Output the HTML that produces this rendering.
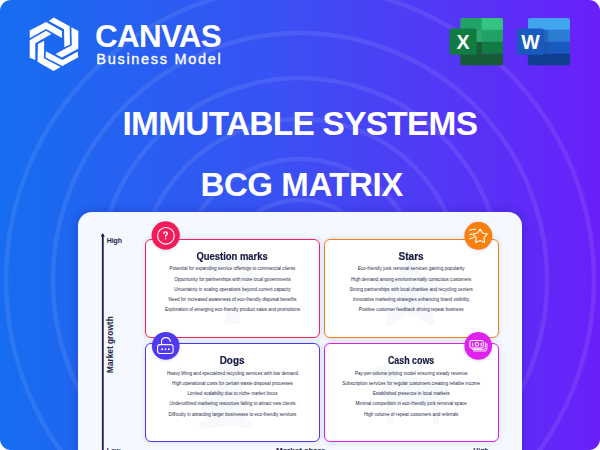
<!DOCTYPE html>
<html><head><meta charset="utf-8">
<style>
*{margin:0;padding:0;box-sizing:border-box}
html,body{width:600px;height:450px;overflow:hidden;background:#fff}
body{position:relative;font-family:"Liberation Sans",sans-serif}
#bg{position:absolute;left:0;top:0;width:600px;height:450px;border-radius:11px;overflow:hidden;
 background:linear-gradient(90deg,#166df0 0%,#3852f3 45%,#6b1ff9 100%)}
#bg svg{position:absolute;left:0;top:0}
.t{position:absolute;color:#fff;white-space:nowrap;font-weight:bold;line-height:1}
#card{position:absolute;left:77.7px;top:212.3px;width:444.6px;height:260px;background:#f5f8fe;border-radius:14px;
 box-shadow:0 0 9px 1px rgba(20,20,120,0.28)}
.box{position:absolute;border:1.6px solid;border-radius:6px;background:#fff;box-shadow:0 0 5px rgba(120,160,220,0.3)}
.ttl{position:absolute;left:-1.2px;right:0;text-align:center;font-weight:bold;font-size:10.5px;line-height:12px;color:#161940;white-space:nowrap;-webkit-text-stroke:0.2px #161940}
.ln{position:absolute;left:-20px;right:-20px;text-align:center;font-size:4.6px;line-height:6px;color:#282a46;white-space:nowrap}
.ic{position:absolute;width:28px;height:28px;border-radius:50%;box-shadow:0 1px 4px rgba(80,100,160,0.18)}
.lbl{position:absolute;white-space:nowrap;font-weight:bold;color:#1b1b45;line-height:1}
</style></head><body>
<div id="bg">
<svg width="600" height="450">
 <g fill="none" stroke="rgba(255,255,255,0.085)" stroke-width="4.5">
  <circle cx="300" cy="280" r="80"/>
  <circle cx="300" cy="280" r="121"/>
  <circle cx="300" cy="280" r="161"/>
  <circle cx="300" cy="280" r="202"/>
  <circle cx="300" cy="280" r="247"/>
  <circle cx="300" cy="280" r="294"/>
 </g>
</svg>
</div>

<!-- logo -->
<svg style="position:absolute;left:0;top:0" width="100" height="90" viewBox="0 0 100 90"><g fill="#fff"><polygon points="29.70,30.60 46.00,21.90 62.00,31.10 62.00,38.00 46.00,28.90 29.70,38.30"/><polygon points="29.70,40.20 46.00,30.80 51.50,34.00 35.30,43.30 35.30,60.10 29.70,57.70"/><polygon points="78.40,31.09 78.18,48.85 61.79,57.41 55.50,53.96 71.80,45.35 71.38,27.24"/><polygon points="69.65,26.29 70.07,44.40 64.40,47.33 64.02,29.35 48.71,20.95 53.69,17.54"/><polygon points="53.60,70.91 37.52,61.85 37.91,44.09 44.20,40.64 43.90,58.35 60.62,67.06"/><polygon points="62.35,66.11 45.63,57.40 45.80,51.27 62.38,59.95 77.69,51.55 78.31,57.36"/></g></svg>
<div class="t" style="left:95px;top:21.3px;font-size:31.4px;letter-spacing:-0.7px">CANVAS</div>
<div class="t" style="left:96.3px;top:51.6px;font-size:14.5px;font-weight:normal;letter-spacing:1.7px;-webkit-text-stroke:0.35px #fff">Business Model</div>

<!-- office icons -->
<svg style="position:absolute;left:0;top:0" width="600" height="90">
 <defs>
  <clipPath id="cx"><rect x="460.3" y="17.9" width="42.7" height="47.7" rx="2.2"/></clipPath>
  <clipPath id="cw"><rect x="527.9" y="17.9" width="42.1" height="47.7" rx="2.2"/></clipPath>
 </defs>
 <g clip-path="url(#cx)">
  <rect x="460" y="17.5" width="44" height="12.4" fill="#21a366"/>
  <rect x="481.7" y="17.5" width="22" height="12.4" fill="#33c481"/>
  <rect x="460" y="29.9" width="44" height="12" fill="#21a366"/>
  <rect x="460" y="41.9" width="44" height="11.8" fill="#107c41"/>
  <rect x="460" y="41.9" width="21.7" height="11.8" fill="#185c37"/>
  <rect x="460" y="53.7" width="44" height="12" fill="#185c37"/>
  <rect x="476.5" y="29.9" width="5.2" height="12" fill="#2fa86f" opacity="0.9"/>
 </g>
 <rect x="449.6" y="28.4" width="26.9" height="26.3" rx="2" fill="#107c41"/>
 <text x="463" y="48.9" text-anchor="middle" font-family="Liberation Sans" font-weight="bold" font-size="19.6" fill="#fff">X</text>
 <g clip-path="url(#cw)">
  <rect x="527" y="17.5" width="44" height="12.4" fill="#41a5ee"/>
  <rect x="527" y="29.9" width="44" height="12" fill="#2b7cd3"/>
  <rect x="527" y="41.9" width="44" height="11.8" fill="#185abd"/>
  <rect x="527" y="53.7" width="44" height="12" fill="#103f91"/>
  <rect x="544" y="29.9" width="4" height="23.8" fill="#1f4fa8" opacity="0.5"/>
 </g>
 <rect x="516.9" y="28.4" width="27.1" height="26.3" rx="2" fill="#185abd"/>
 <text x="530.4" y="48.9" text-anchor="middle" font-family="Liberation Sans" font-weight="bold" font-size="19.6" fill="#fff">W</text>
</svg>
<div class="t" style="left:122.5px;top:106.8px;font-size:33.4px;letter-spacing:-0.7px">IMMUTABLE SYSTEMS</div>
<div class="t" style="left:200.5px;top:168px;font-size:33px;letter-spacing:-0.42px">BCG MATRIX</div>

<div id="card"></div>
<svg id="axis" style="position:absolute;left:0;top:0" width="600" height="450">
 <line x1="102.8" y1="235" x2="102.8" y2="450" stroke="#1b1b45" stroke-width="1.8"/>
 <polygon points="102.8,233 100.8,236.6 104.8,236.6" fill="#1b1b45"/>
</svg>
<div class="lbl" style="left:106.7px;top:237.8px;font-size:6.9px">High</div>
<div class="lbl" style="left:106.7px;top:447.5px;font-size:6.9px">Low</div>
<div class="lbl" style="left:473.2px;top:447.7px;font-size:6.9px">High</div>
<div class="lbl" style="left:276px;top:447.4px;font-size:8px">Market share</div>
<div class="lbl" style="left:105.6px;top:372.6px;font-size:8.3px;transform:rotate(-90deg);transform-origin:0 0">Market growth</div>

<div class="box" style="left:145px;top:238.5px;width:175px;height:99.7px;border-color:#f3215a">
 <svg style="position:absolute;left:0;top:0" width="171" height="96"><g fill="none" stroke="#f7f9fd" stroke-width="11" stroke-linejoin="round"><path d="M64,40 C64,26 73,21 82,21 C93,21 101,29 101,38 C101,51 86,52 86,66"/></g><rect x="79" y="71" width="15" height="13" rx="2" fill="#f7f9fd"/></svg>
 <div class="ttl" style="top:10.0px;transform:scaleX(0.898)">Question marks</div>
 <div class="ln" style="top:26.8px">Potential for expanding service offerings to commercial clients</div>
 <div class="ln" style="top:37.1px">Opportunity for partnerships with more local governments</div>
 <div class="ln" style="top:47.3px">Uncertainty in scaling operations beyond current capacity</div>
 <div class="ln" style="top:57.5px">Need for increased awareness of eco-friendly disposal benefits</div>
 <div class="ln" style="top:67.8px">Exploration of emerging eco-friendly product sales and promotions</div>
</div>
<div class="box" style="left:323.7px;top:238.5px;width:175px;height:99.7px;border-color:#fa7d0f">
 <svg style="position:absolute;left:0;top:0" width="171" height="96"><polygon points="85.3,16.0 95.3,39.2 120.5,41.6 101.5,58.3 107.0,82.9 85.3,70.0 63.6,82.9 69.1,58.3 50.1,41.6 75.3,39.2" fill="#f7f9fd" stroke="#f7f9fd" stroke-width="6" stroke-linejoin="round"/></svg>
 <div class="ttl" style="top:10.0px;transform:scaleX(0.958)">Stars</div>
 <div class="ln" style="top:26.8px">Eco-friendly junk removal services gaining popularity</div>
 <div class="ln" style="top:37.1px">High demand among environmentally conscious customers</div>
 <div class="ln" style="top:47.3px">Strong partnerships with local charities and recycling centers</div>
 <div class="ln" style="top:57.5px">Innovative marketing strategies enhancing brand visibility</div>
 <div class="ln" style="top:67.8px">Positive customer feedback driving repeat business</div>
</div>
<div class="box" style="left:145px;top:342.9px;width:175px;height:99.6px;border-color:#5038f0">
 <svg style="position:absolute;left:0;top:0" width="171" height="96"><g fill="#f7f9fd"><ellipse cx="80" cy="62" rx="25" ry="20"/><circle cx="85" cy="26" r="13"/><rect x="74" y="30" width="22" height="30"/><ellipse cx="65" cy="80" rx="14" ry="4"/><ellipse cx="98" cy="80" rx="10" ry="4"/></g></svg>
 <div class="ttl" style="top:10.5px;transform:scaleX(0.943)">Dogs</div>
 <div class="ln" style="top:26.8px">Heavy lifting and specialized recycling services with low demand</div>
 <div class="ln" style="top:37.1px">High operational costs for certain waste disposal processes</div>
 <div class="ln" style="top:47.3px">Limited scalability due to niche market focus</div>
 <div class="ln" style="top:57.5px">Underutilized marketing resources failing to attract new clients</div>
 <div class="ln" style="top:67.8px">Difficulty in attracting larger businesses to eco-friendly services</div>
</div>
<div class="box" style="left:323.7px;top:342.9px;width:175px;height:99.6px;border-color:#e21cf0">
 <svg style="position:absolute;left:0;top:0" width="171" height="96"><g fill="#f7f9fd"><ellipse cx="90" cy="48" rx="34" ry="14"/><ellipse cx="60" cy="30" rx="13" ry="9"/><rect x="62" y="55" width="6" height="25"/><rect x="108" y="55" width="6" height="25"/></g></svg>
 <div class="ttl" style="top:10.5px;transform:scaleX(0.844)">Cash cows</div>
 <div class="ln" style="top:26.8px">Pay-per-volume pricing model ensuring steady revenue</div>
 <div class="ln" style="top:37.1px">Subscription services for regular customers creating reliable income</div>
 <div class="ln" style="top:47.3px">Established presence in local markets</div>
 <div class="ln" style="top:57.5px">Minimal competition in eco-friendly junk removal space</div>
 <div class="ln" style="top:67.8px">High volume of repeat customers and referrals</div>
</div>

<svg style="position:absolute;left:0;top:0" width="600" height="450">
 <defs><filter id="sh" x="-30%" y="-30%" width="160%" height="160%"><feDropShadow dx="0" dy="1" stdDeviation="1.6" flood-color="#6080c0" flood-opacity="0.25"/></filter></defs>
 <g filter="url(#sh)">
  <circle cx="165.7" cy="235.5" r="14.15" fill="#f41f58"/>
  <circle cx="478.35" cy="235.8" r="14" fill="#fa7f10"/>
  <circle cx="165.75" cy="345.9" r="13.85" fill="#5039ef"/>
  <circle cx="478.2" cy="345.9" r="13.85" fill="#e020ee"/>
 </g>
 <g fill="none" stroke="#fff" stroke-linecap="round" stroke-linejoin="round">
  <!-- question -->
  <circle cx="165.95" cy="235.8" r="8.35" stroke-width="1.15"/>
  <path d="M163.9,233.5 C163.9,232.3 164.7,231.9 165.6,231.9 C166.5,231.9 167.3,232.5 167.3,233.4 C167.3,234.6 165.6,234.8 165.6,236.2 L165.6,236.6" stroke-width="1.35"/>
  <!-- star -->
  <polygon points="480.10,228.90 482.51,233.08 487.23,234.08 484.00,237.67 484.51,242.47 480.10,240.50 475.69,242.47 476.20,237.67 472.97,234.08 477.69,233.08" stroke-width="1.1"/>
  <path d="M469.7,230.1 Q472.5,229 475.5,229.4" stroke-width="1.15"/>
  <path d="M469.8,234.6 L471.7,234.1" stroke-width="1.15"/>
  <path d="M469.8,238.8 Q471.8,238.5 473.6,237.5" stroke-width="1.15"/>
  <!-- lock -->
  <rect x="157.6" y="344.6" width="15.5" height="8.9" rx="2.4" stroke-width="1.1"/>
  <path d="M161.5,344.4 L161.5,341.9 C161.5,339.2 163.6,337.6 166,337.6 C168.2,337.6 169.8,339 170.5,341.4" stroke-width="1.1"/>
  <!-- cash -->
  <rect x="469.9" y="340.4" width="13.3" height="7.7" rx="1.8" stroke-width="1.05"/>
  <path d="M472.5,349.6 L483.6,349.6 Q485.3,349.6 485.3,347.9 L485.3,342.6" stroke-width="0.9"/>
  <path d="M473.6,351 L485.2,351 Q486.9,351 486.9,349.3 L486.9,343.8" stroke-width="0.9"/>
  <path d="M472.7,342.9 L472.7,345.9 M481.1,342.9 L481.1,345.9" stroke-width="1.05"/>
  <circle cx="476.9" cy="344.3" r="1.8" stroke-width="1.05"/>
 </g>
 <g fill="#fff">
  <circle cx="165.6" cy="238.7" r="0.8"/>
  <circle cx="162.1" cy="349.2" r="0.95"/>
  <circle cx="165.5" cy="349.2" r="0.95"/>
  <circle cx="168.8" cy="349.2" r="0.95"/>
 </g>
</svg>
</body></html>
